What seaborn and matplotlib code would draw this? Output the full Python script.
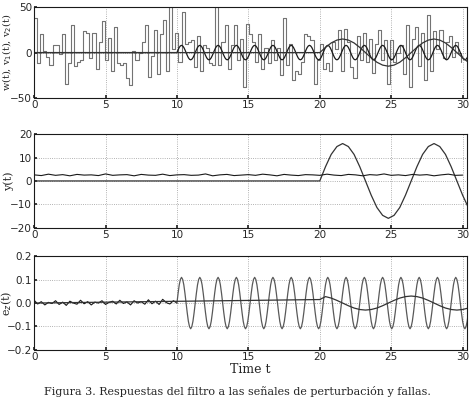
import numpy as np
import pandas as pd
import matplotlib
matplotlib.use("Agg")
import matplotlib.pyplot as plt
import seaborn as sns

sns.set_theme(style="ticks")
plt.rcParams['font.family'] = ['DejaVu Sans']

# ---- data ----
# step disturbance w(t), one value every ~0.215 s
w_vals = [38, -12, 20, 2, -5, -14, 8, 8, -2, 20, -35, -12, 30, -15, -10, -8, 24, 22, -6, 22,
          -18, 12, 35, -8, 16, -20, 28, -12, -14, -12, -28, -36, 2, -8, 0, 12, 30, -27, -4, 25,
          -24, 20, 36, -20, 50, 4, 22, -10, 45, 10, 12, 14, -16, 18, -20, 8, 5, -12, -14, 50,
          -14, 12, 30, -18, 8, 30, -8, 15, -38, 32, 20, 12, -10, 20, -18, 5, -12, 14, -8, 5,
          -25, 38, -14, 10, -30, -20, -24, -10, 20, 18, 14, -35, -8, 10, -18, -12, -20, 12, 4, 25,
          -20, 26, 12, -16, -28, 18, -8, 22, -10, 15, -22, 10, 25, -8, 14, -35, 14, -10, 0, 8,
          -24, 30, -38, 15, 28, -15, 22, -30, 42, -20, 24, 4, 25, -6, 12, 18, -5, 12, 0, -10]
# one cycle of a sinusoidal fault signal (16 samples per cycle)
fast_cycle = [0.0, 0.38, 0.71, 0.92, 1.0, 0.92, 0.71, 0.38, 0.0, -0.38, -0.71, -0.92, -1.0, -0.92, -0.71, -0.38]
fast_period = 1.28
slow_cycle = fast_cycle
slow_period = 6.4
# y(t) measurement noise around 2.5, every 0.5 s
y_noise = [2.6, 2.3, 2.9, 2.4, 2.7, 2.2, 2.8, 2.5, 2.6, 2.3, 3.0, 2.4, 2.6, 2.7, 2.2, 2.8, 2.5, 2.4, 2.9, 2.3,
           2.6, 2.7, 2.4, 2.5, 3.0, 2.2, 2.6, 2.8, 2.3, 2.5, 2.7, 2.4, 2.9, 2.6, 2.2, 2.8, 2.5, 2.3, 2.7, 2.6,
           2.4, 2.9, 2.5, 2.3, 2.8, 2.6, 2.2, 2.7, 2.5, 3.0, 2.4, 2.6, 2.3, 2.8, 2.5, 2.7, 2.2, 2.6, 2.9, 2.4, 2.5]
# residual noise before the fault, every 0.25 s
e_noise = [0.012, -0.004, 0.006, -0.008, 0.003, -0.002, 0.01, -0.006, 0.004, -0.01, 0.008, 0.0, -0.005, 0.012, -0.003,
           0.006, -0.008, 0.004, 0.0, 0.01, -0.006, 0.003, 0.008, -0.004, 0.012, -0.002, 0.005, -0.008, 0.01, 0.0,
           0.006, -0.005, 0.014, -0.003, 0.008, -0.006, 0.016, 0.002, -0.004, 0.01, 0.0]

def tiled(cycle, period, t0, t1, amp):
    n = int((t1 - t0) / period * len(cycle)) + 1
    t = t0 + np.arange(n) * period / len(cycle)
    v = np.array([cycle[i % len(cycle)] for i in range(n)]) * amp
    return pd.DataFrame({"t": t, "v": v})

df_w = pd.DataFrame({"t": np.arange(len(w_vals)) * 0.215, "v": w_vals})
v1 = pd.concat([pd.DataFrame({"t": [0, 10], "v": [0, 0]}), tiled(fast_cycle, fast_period, 10, 30.5, 8)])
v2 = pd.concat([pd.DataFrame({"t": [0, 20], "v": [0, 0]}), tiled(slow_cycle, slow_period, 20, 30.5, 15)])
y_sl = pd.concat([pd.DataFrame({"t": [0, 20], "v": [0, 0]}), tiled(slow_cycle, slow_period, 20, 30.5, 16)])
df_yn = pd.DataFrame({"t": np.arange(len(y_noise)) * 0.5, "v": y_noise})
e_fast = tiled(fast_cycle, fast_period, 10, 30.5, 0.11)
e_pre = pd.DataFrame({"t": np.arange(len(e_noise)) * 0.25, "v": e_noise})
e_slow = pd.concat([pd.DataFrame({"t": [0, 20], "v": [0, 0]}),
                    tiled(slow_cycle[4:] + slow_cycle[:4], slow_period, 20, 30.5, 0.03)])

fig = plt.figure(figsize=(4.74, 4.03), dpi=100)
L, W = 0.072, 0.913
axs = [fig.add_axes([L, 0.757, W, 0.225]),
       fig.add_axes([L, 0.435, W, 0.232]),
       fig.add_axes([L, 0.132, W, 0.232])]

ax = axs[0]
sns.lineplot(data=df_w, x="t", y="v", ax=ax, color="0.45", lw=0.8, drawstyle="steps-post")
sns.lineplot(data=v1, x="t", y="v", ax=ax, color="k", lw=0.9)
sns.lineplot(data=v2, x="t", y="v", ax=ax, color="0.2", lw=0.9)
ax.set_ylim(-50, 50)
ax.set_yticks([-50, 0, 50])
ax.set_ylabel(r"w(t), v$_1$(t), v$_2$(t)", family="DejaVu Serif", fontsize=7)

ax = axs[1]
sns.lineplot(data=y_sl, x="t", y="v", ax=ax, color="0.2", lw=0.9)
sns.lineplot(data=df_yn, x="t", y="v", ax=ax, color="k", lw=0.8)
ax.set_ylim(-20, 20)
ax.set_yticks([-20, -10, 0, 10, 20])
ax.set_ylabel("y(t)", family="DejaVu Serif", fontsize=8)

ax = axs[2]
sns.lineplot(data=e_pre, x="t", y="v", ax=ax, color="k", lw=0.8)
sns.lineplot(data=e_fast, x="t", y="v", ax=ax, color="0.35", lw=0.9)
sns.lineplot(data=e_slow, x="t", y="v", ax=ax, color="0.2", lw=0.9)
ax.set_ylim(-0.2, 0.2)
ax.set_yticks([-0.2, -0.1, 0, 0.1, 0.2])
ax.set_ylabel(r"e$_z$(t)", family="DejaVu Serif", fontsize=8)
ax.set_xlabel("Time t", family="DejaVu Serif", fontsize=9, labelpad=1)

for ax in axs:
    ax.set_xlim(0, 30.3)
    ax.set_xticks([0, 5, 10, 15, 20, 25, 30])
    ax.grid(True, ls=":", color="0.6", lw=0.6)
    ax.tick_params(labelsize=7.5, length=2, direction="in", pad=1.5)
    ax.yaxis.set_label_coords(-0.047, 0.5)
    if ax is not axs[2]:
        ax.set_xlabel("")
    for s in ax.spines.values():
        s.set_color("k")
        s.set_linewidth(0.8)

fig.text(0.5, 0.02, "Figura 3. Respuestas del filtro a las señales de perturbación y fallas.",
         ha="center", family="DejaVu Serif", fontsize=8)
fig.savefig("out.png", dpi=100)
